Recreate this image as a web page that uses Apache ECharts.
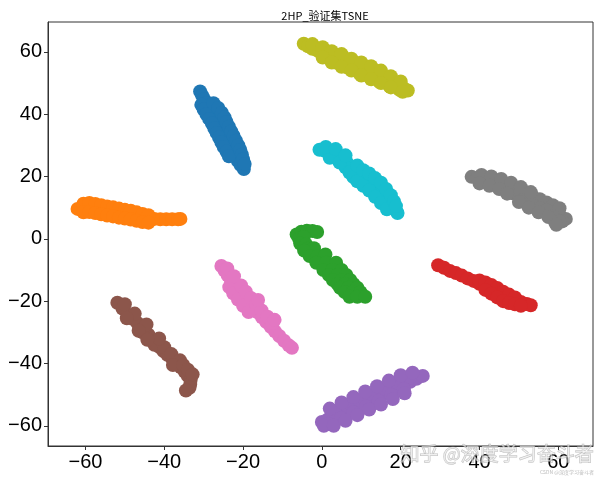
<!DOCTYPE html>
<html>
<head>
<meta charset="utf-8">
<script src="https://cdn.jsdelivr.net/npm/echarts@6/dist/echarts.min.js"></script>
<style>html,body{margin:0;padding:0;background:#fff}#c{width:600px;height:480px}</style>
</head>
<body>
<div id="c"></div>
<script>
const title = '2HP_验证集TSNE';
const xTicks = [-60, -40, -20, 0, 20, 40, 60];
const yTicks = [-60, -40, -20, 0, 20, 40, 60];
const colors = ['#1f77b4','#ff7f0e','#2ca02c','#d62728','#9467bd','#8c564b','#e377c2','#7f7f7f','#bcbd22','#17becf'];

const cls0 = [[-30.9,47.3],[-30.4,46.0],[-29.9,44.8],[-29.3,43.5],[-28.5,42.0],[-27.7,40.5],[-26.9,39.0],[-26.2,37.6],[-25.6,36.0],[-25.0,34.5],[-24.4,33.0],[-23.8,31.3],[-23.2,29.6],[-22.6,28.0],[-22.0,26.5],[-21.3,25.0],[-20.6,23.7],[-19.8,22.4],
  [-30.6,43.0],[-30.0,41.5],[-29.3,40.0],[-28.6,38.5],[-27.9,37.0],[-27.3,35.5],[-26.7,34.0],[-26.1,32.5],[-25.5,31.0],[-24.9,29.5],[-24.2,28.0],[-23.6,26.5],
  [-27.5,43.5],[-26.3,42.0],[-25.4,40.5],[-24.7,39.0],[-24.2,37.5],[-23.6,36.0],[-23.0,34.5],[-22.4,33.0],[-21.8,31.5],[-21.2,30.0],[-20.7,28.5],[-20.3,27.0],[-20.0,25.5],[-19.6,24.0]];
const cls1 = [[-62.0,9.6],[-60.5,9.9],[-59.0,10.0],[-57.5,9.7],[-56.0,9.3],[-54.5,8.9],[-53.0,8.6],[-51.5,8.2],[-50.0,7.9],[-48.5,7.6],[-47.0,7.2],[-45.5,6.8],[-44.0,6.6],[-42.5,6.4],[-41.0,6.3],[-39.5,6.3],[-38.0,6.3],[-36.5,6.3],[-35.9,6.4],
  [-60.5,11.3],[-59.0,11.5],[-57.5,11.2],[-56.0,10.8],[-54.5,10.4],[-53.0,10.1],[-51.5,9.7],[-50.0,9.3],[-48.5,9.0],[-47.0,8.5],[-45.5,8.0],[-44.0,7.6],
  [-60.5,8.5],[-59.0,8.6],[-57.5,8.3],[-56.0,7.9],[-54.5,7.5],[-53.0,7.2],[-51.5,6.8],[-50.0,6.5],[-48.5,6.2],[-47.0,5.8],[-45.5,5.4],[-44.0,5.2]];
const cls2 = [[-6.4,1.4],[-5.2,2.3],[-3.8,2.6],[-2.4,2.5],[-1.2,2.2],[-5.8,0.0],[-4.6,0.6],
  [-5.5,-1.5],[-4.0,-1.8],[-3.6,-3.2],[-2.0,-3.0],[-4.5,-3.8],
  [-3.1,-5.5],[-1.1,-5.5],[0.9,-5.0],
  [-1.4,-7.7],[1.1,-7.7],[3.6,-7.7],
  [0.4,-10.0],[2.7,-10.0],[5.0,-10.0],
  [1.8,-11.6],[4.0,-11.6],[6.2,-11.6],
  [2.8,-13.2],[5.0,-13.2],[7.2,-13.2],
  [4.0,-14.5],[6.0,-14.5],[8.0,-14.5],
  [4.6,-15.7],[6.8,-15.7],[9.0,-15.7],
  [5.8,-17.1],[7.8,-17.1],[9.8,-17.1],
  [7.0,-18.6],[9.0,-18.6],[11.0,-18.6]];
const cls3 = [[29.5,-8.5],[31.0,-9.3],[32.5,-10.3],[34.0,-11.0],[35.5,-11.8],[37.0,-12.7],[38.5,-13.5],[40.0,-14.4],[41.5,-15.3],[43.0,-16.3],[44.5,-17.4],[46.0,-18.6],[47.5,-19.2],[49.0,-19.8],[50.5,-20.3],[52.0,-20.9],[53.0,-21.3],
  [40.0,-13.4],[41.5,-14.0],[43.0,-14.8],[44.5,-15.8],[46.0,-17.0],[47.5,-17.9],[49.0,-18.8],
  [41.5,-16.4],[43.0,-17.6],[44.5,-18.8],[46.0,-20.0],[47.5,-20.6],[49.0,-21.0],[50.5,-21.5]];
const cls4 = [[0.0,-58.8],[1.6,-57.9],[3.2,-57.0],[4.8,-56.0],[6.4,-55.1],[8.0,-54.2],[9.6,-53.3],[11.2,-52.3],[12.8,-51.4],[14.4,-50.5],[16.0,-49.6],[17.6,-48.6],[19.2,-47.7],[20.8,-46.8],[22.4,-45.9],[24.0,-44.9],[25.6,-44.0],
  [3.2,-55.5],[6.4,-53.6],[9.6,-51.8],[12.8,-49.9],[16.0,-48.1],[19.2,-46.2],[22.4,-44.4],
  [1.6,-59.4],[4.8,-57.5],[8.0,-55.7],[11.2,-53.8],[14.4,-52.0],[17.6,-50.1],[20.8,-48.3],[0.5,-60.0],
  [2.0,-54.5],[5.0,-52.5],[8.0,-50.8],[11.0,-49.0],[14.0,-47.3],[17.0,-45.5],[20.0,-43.8],[23.0,-43.0],
  [3.0,-60.0],[6.0,-58.4],[9.0,-56.6],[12.0,-54.8],[15.0,-53.2],[18.0,-51.4],[21.0,-49.6]];
const cls5 = [[-51.9,-20.5],[-50.6,-22.4],[-49.3,-24.4],[-48.0,-25.7],[-46.8,-27.0],[-45.4,-28.9],[-44.0,-30.8],[-42.6,-32.8],[-41.2,-34.7],[-40.2,-36.0],[-39.2,-37.2],[-38.0,-38.5],[-36.9,-39.8],[-35.8,-41.2],[-34.8,-42.7],[-34.0,-44.0],[-33.3,-45.3],[-33.4,-46.6],[-33.6,-47.8],[-34.5,-48.7],
  [-45.5,-30.0],[-42.5,-34.0],[-40.0,-34.8],[-38.2,-37.0],[-36.0,-39.0],[-37.8,-40.5],[-35.2,-40.5],[-34.0,-42.0],[-32.8,-43.5],
  [-50.0,-21.0],[-47.5,-24.0],[-44.5,-27.5],[-41.3,-32.0],[-49.5,-25.5],[-46.5,-29.5],[-44.3,-32.4]];
const cls6 = [[-25.5,-8.7],[-24.7,-10.2],[-23.9,-11.7],[-23.1,-13.2],[-22.2,-14.7],[-21.3,-16.2],[-20.3,-17.7],[-19.3,-19.2],[-18.3,-20.7],[-17.3,-22.2],[-16.2,-23.7],[-15.2,-25.2],[-14.1,-26.7],[-13.0,-28.2],[-11.9,-29.7],[-10.8,-31.2],[-9.6,-32.7],[-8.4,-34.2],[-7.6,-35.0],
  [-23.5,-15.5],[-22.5,-17.5],[-21.3,-19.5],[-20.0,-21.5],[-18.6,-23.5],
  [-20.5,-15.0],[-19.3,-17.0],[-18.0,-19.0],[-16.7,-21.0],[-15.3,-23.0],[-13.8,-25.0],[-12.5,-27.0],
  [-16.2,-19.6],[-12.0,-26.0],[-24.0,-9.5],[-22.3,-12.0]];
const cls7 = [[38.0,19.9],[39.5,19.5],[41.0,19.2],[42.6,18.8],[44.0,18.4],[45.1,18.1],[46.7,17.0],[48.4,15.7],[49.7,14.8],[51.0,13.8],[52.2,13.0],[53.5,12.2],[55.3,11.3],[57.0,10.4],[58.6,9.0],[60.3,7.7],[61.9,6.4],[61.0,5.6],[59.2,5.3],
  [48.4,16.8],[51.0,15.2],[53.5,13.6],[55.3,12.7],[57.0,11.7],[58.6,10.8],[60.3,9.8],
  [48.4,14.6],[51.0,12.4],[53.5,10.8],[55.3,9.9],[57.0,9.1],[58.6,7.2],[60.3,5.6],
  [40.5,20.5],[43.0,20.0],[45.5,19.2],[48.0,18.0],[50.5,16.6],[53.0,15.0],
  [40.0,17.8],[42.5,17.0],[45.0,16.0],[47.0,14.5],[50.0,11.8],[52.5,10.0],[55.0,8.5],[57.5,7.0],[59.5,4.5]];
const cls8 = [[-4.6,62.6],[-3.5,61.8],[-2.4,61.0],[-1.1,60.4],[0.2,59.9],[1.4,59.1],[2.5,58.4],[3.5,57.7],[4.5,57.1],[5.8,56.6],[7.0,56.1],[8.3,55.2],[9.6,54.3],[10.8,53.8],[12.1,53.3],[13.3,52.6],[14.6,52.0],[15.9,51.2],[17.2,50.4],[18.4,49.7],[19.7,49.0],[20.8,48.3],[21.8,47.6],
  [3.5,58.9],[6.5,57.6],[9.6,55.6],[12.1,54.6],[14.6,53.6],[17.2,51.8],[19.7,50.2],
  [3.5,56.6],[6.5,55.0],[9.6,53.0],[12.1,52.0],[14.6,50.4],[17.2,49.0],[19.7,47.8],
  [-2.4,62.5],[0.2,61.5],[2.5,60.2],[5.0,59.3],[7.5,57.8],[10.0,56.6],[12.5,55.4],[15.0,54.0],[17.5,52.2],[20.0,50.5],
  [0.2,58.2],[2.5,56.6],[5.0,55.2],[7.5,54.0],[10.0,52.4],[12.5,51.2],[15.0,50.0],[17.5,48.6],[20.5,47.2]];
const cls9 = [[-0.6,28.6],[0.6,28.3],[1.8,27.9],[3.0,27.4],[4.2,26.7],[5.3,25.8],[6.3,24.6],[7.2,23.3],[8.1,22.0],[9.0,21.1],[10.0,20.3],[11.0,19.4],[12.0,18.6],[13.0,17.5],[14.0,16.4],[15.0,15.2],[16.0,13.9],[17.0,12.5],[17.9,11.0],[18.6,9.7],[19.2,8.3],
  [6.0,23.0],[7.0,21.3],[8.0,19.8],[9.0,18.5],[10.5,17.0],[12.0,15.5],[13.5,13.5],[15.0,11.5],[16.5,9.5],
  [9.0,23.5],[10.5,22.0],[12.0,21.0],[13.5,19.5],[15.0,18.0],[16.3,16.0],[17.5,14.0],[18.3,12.0],[18.8,10.5],
  [2.0,26.0],[4.5,24.5],[1.0,29.5],[3.5,28.8],[6.0,26.8]];

const classes = [cls0, cls1, cls2, cls3, cls4, cls5, cls6, cls7, cls8, cls9];

const chart = echarts.init(document.getElementById('c'), null, {renderer: 'canvas'});
const fmt = v => String(v).replace('-', '\u2212');
const axisFont = {fontFamily: 'Liberation Sans', fontSize: 20, color: '#000'};
chart.setOption({
  animation: false,
  backgroundColor: '#fff',
  title: {
    text: title, left: 320, top: 5, textAlign: 'center',
    textStyle: {fontFamily: 'Noto Sans CJK SC', fontSize: 11, fontWeight: 'normal', color: '#000'}
  },
  grid: {left: 48, right: 7, top: 22, bottom: 34, show: true, borderColor: '#333', borderWidth: 1, backgroundColor: 'transparent'},
  xAxis: {
    type: 'value', min: -69.5, max: 68.8,
    axisLine: {show: true, onZero: false, lineStyle: {color: '#333', width: 1}},
    axisTick: {show: true, length: 4, customValues: xTicks, lineStyle: {color: '#333'}},
    axisLabel: Object.assign({margin: 6, customValues: xTicks, formatter: fmt}, axisFont),
    splitLine: {show: false}
  },
  yAxis: {
    type: 'value', min: -66.5, max: 69.6,
    axisLine: {show: true, onZero: false, lineStyle: {color: '#333', width: 1}},
    axisTick: {show: true, length: 4, customValues: yTicks, lineStyle: {color: '#333'}},
    axisLabel: Object.assign({margin: 6, customValues: yTicks, formatter: fmt}, axisFont),
    splitLine: {show: false}
  },
  series: classes.map((d, i) => ({
    type: 'scatter', data: d, symbolSize: 14,
    itemStyle: {color: colors[i], opacity: 1}
  })),
  graphic: [
    {type: 'text', left: 400, top: 444, z: 100, style: {text: '知乎 @深度学习奋斗者', fontFamily: 'Noto Sans CJK SC', fontSize: 19, fill: 'rgba(255,255,255,0.55)', stroke: 'rgba(140,140,140,0.55)', lineWidth: 1}},
    {type: 'text', left: 540, top: 470, z: 100, style: {text: 'CSDN @深度学习奋斗者', fontFamily: 'Noto Sans CJK SC', fontSize: 5, fill: '#bbb'}}
  ]
});
</script>
</body>
</html>
